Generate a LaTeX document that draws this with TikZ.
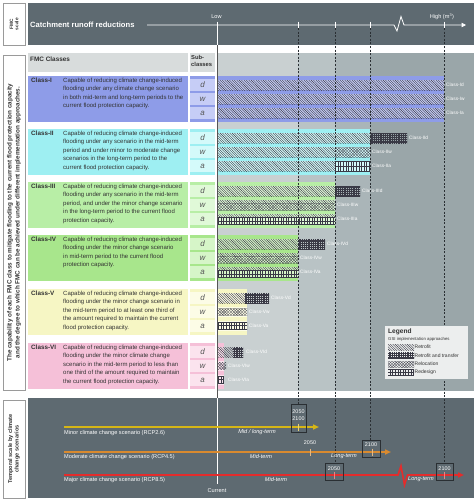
\documentclass[tikz,border=0pt]{standalone}
\usepackage{fontspec}
\setmainfont{Liberation Sans}
\usetikzlibrary{patterns,arrows.meta}

\pgfdeclarepatternformonly{retro}{\pgfqpoint{-1pt}{-1pt}}{\pgfqpoint{3.4pt}{3.4pt}}{\pgfqpoint{2.4pt}{2.4pt}}{%
  \pgfsetlinewidth{0.38pt}%
  \pgfpathmoveto{\pgfqpoint{0pt}{2.4pt}}\pgfpathlineto{\pgfqpoint{2.5pt}{-0.1pt}}%
  \pgfusepath{stroke}}
\pgfdeclarepatternformonly{rtrans}{\pgfqpoint{-1pt}{-1pt}}{\pgfqpoint{2.8pt}{2.8pt}}{\pgfqpoint{1.8pt}{1.8pt}}{%
  \pgfsetlinewidth{0.6pt}%
  \pgfpathmoveto{\pgfqpoint{-0.1pt}{0pt}}\pgfpathlineto{\pgfqpoint{1.9pt}{0pt}}%
  \pgfpathmoveto{\pgfqpoint{0pt}{-0.1pt}}\pgfpathlineto{\pgfqpoint{0pt}{1.9pt}}%
  \pgfusepath{stroke}}
\pgfdeclarepatternformonly{reloc}{\pgfqpoint{-1pt}{-1pt}}{\pgfqpoint{3.8pt}{3.8pt}}{\pgfqpoint{2.8pt}{2.8pt}}{%
  \pgfsetlinewidth{0.28pt}%
  \pgfpathmoveto{\pgfqpoint{0pt}{0pt}}\pgfpathlineto{\pgfqpoint{2.8pt}{2.8pt}}%
  \pgfpathmoveto{\pgfqpoint{0pt}{2.8pt}}\pgfpathlineto{\pgfqpoint{2.8pt}{0pt}}%
  \pgfusepath{stroke}}
\pgfdeclarepatternformonly{redes}{\pgfqpoint{-1pt}{-1pt}}{\pgfqpoint{3.6pt}{3.6pt}}{\pgfqpoint{2.6pt}{2.6pt}}{%
  \pgfsetlinewidth{0.4pt}%
  \pgfpathmoveto{\pgfqpoint{0pt}{-0.1pt}}\pgfpathlineto{\pgfqpoint{0pt}{2.7pt}}%
  \pgfusepath{stroke}}

\definecolor{band}{HTML}{5E6A71}
\definecolor{sideb}{HTML}{9A9A9A}
\definecolor{hdr}{HTML}{D8DCDC}
\definecolor{gA}{HTML}{C9D0D1}
\definecolor{gB}{HTML}{B9C3C5}
\definecolor{gC}{HTML}{AAB5B8}
\definecolor{gD}{HTML}{9AA6A9}
\definecolor{txt}{HTML}{333333}
\definecolor{subtxt}{HTML}{555555}
\definecolor{patc}{HTML}{3A3A46}
\definecolor{cI}{HTML}{8E9CE8}\definecolor{cIl}{HTML}{C6CDF6}
\definecolor{cII}{HTML}{9EEFF2}\definecolor{cIIl}{HTML}{D4FAFA}
\definecolor{cIII}{HTML}{B8EEA6}\definecolor{cIIIl}{HTML}{E0F9D8}
\definecolor{cIV}{HTML}{A8E68C}\definecolor{cIVl}{HTML}{D6F5C8}
\definecolor{cV}{HTML}{F6F6C4}\definecolor{cVl}{HTML}{FCFCE6}
\definecolor{cVI}{HTML}{F5C0D8}\definecolor{cVIl}{HTML}{FBE3EE}
\definecolor{minc}{HTML}{D6B616}
\definecolor{modc}{HTML}{D98A2F}
\definecolor{majc}{HTML}{E42C2C}
\definecolor{legbg}{HTML}{ECEEEE}
\definecolor{dashc}{HTML}{2A2F33}

\tikzset{
  desc/.style={anchor=north west, inner sep=0pt, align=left, font=\fontsize{6}{8.6}\selectfont, text=txt},
  classlbl/.style={anchor=north west, inner sep=0pt, font=\fontsize{6.3}{8.6}\selectfont\bfseries, text=txt},
  sublbl/.style={inner sep=0pt, font=\fontsize{8}{8}\selectfont\itshape, text=subtxt},
  barlbl/.style={anchor=west, inner sep=0pt, font=\fontsize{4.8}{5}\selectfont, text=white},
  sidebox/.style={draw=sideb, line width=0.6pt, fill=white, rotate=90, inner sep=0pt, align=center, text=txt},
  wtxt/.style={inner sep=0pt, text=white, font=\fontsize{5.6}{6}\selectfont},
  witxt/.style={inner sep=0pt, text=white, font=\fontsize{5.6}{6}\selectfont\itshape},
  yrtxt/.style={inner sep=0pt, text=white, align=center, font=\fontsize{5.4}{7.4}\selectfont},
  yrbox/.style={draw=dashc, line width=0.7pt},
  dashln/.style={dashc, line width=0.8pt, dash pattern=on 2pt off 1.6pt},
  legtxt/.style={anchor=west, inner sep=0pt, text=txt, font=\fontsize{5}{5}\selectfont},
}

\newcommand{\classleft}[5]{%
  \fill[#2] (28,#1) rectangle (188,#1+46);
  \fill[#2] (190,#1) rectangle (215,#1+46);
  \foreach \k in {9,23,37} {\fill[#3] (190,#1+\k-6) rectangle (215,#1+\k+6);}
  \node[classlbl] (name#4) at (31,#1+1.5) {Class-#4};
  \node[desc] (desc#4) at (63,#1+1.5) {#5};
  \node[sublbl] (sub#4d) at (202.5,#1+9) {d};
  \node[sublbl] (sub#4w) at (202.5,#1+23) {w};
  \node[sublbl] (sub#4a) at (202.5,#1+37) {a};
}
\newcommand{\classband}[4]{%
  \fill[#2] (217,#1) rectangle (#4,#1+46);
  \foreach \k in {9,23,37} {\fill[#3] (217,#1+\k-5) rectangle (#4,#1+\k+5);}
}
\newcommand{\pat}[5]{\fill[pattern=#1,pattern color=patc] (#2,#4) rectangle (#3,#5);}
\newcommand{\rdsn}[4]{\pat{redes}{#1}{#2}{#3}{#4}%
  \draw[patc,line width=0.35pt] (#1,#3) -- (#2,#3) (#1,#4) -- (#2,#4) (#1,{(#3+#4)/2}) -- (#2,{(#3+#4)/2});}

\begin{document}
\begin{tikzpicture}[x=1pt,y=-1pt]
\useasboundingbox (0,0) rectangle (474,501);
\fill[white] (0,0) rectangle (474,501);

% ---------- top band ----------
\fill[band] (28,3) rectangle (474,45);
\node[sidebox, minimum width=42, minimum height=22, font=\fontsize{4.8}{5.2}\selectfont\bfseries] (fmcscale) at (14,24) {FMC\\scale};
\node[anchor=west, inner sep=0pt, text=white, font=\fontsize{7.6}{8}\selectfont\bfseries] (runoff) at (30,25) {Catchment runoff reductions};
\coordinate (axs) at (147,25);
\coordinate (axe) at (466,25);
\draw[white, line width=0.8pt, -{Triangle[length=4.5pt,width=4.5pt]}] (axs) -- (394,25) -- (397,31) -- (401,16.5) -- (404,25) -- (axe);
\foreach \x in {217,298,335,370,444} {\draw[white, line width=0.7pt] (\x,21.5) -- (\x,28.5);}
\node[wtxt] (low) at (216.5,16.5) {Low};
\node[wtxt] (high) at (442,16.5) {High (m\textsuperscript{3})};

% ---------- middle section ----------
\node[sidebox, minimum width=335, minimum height=22, font=\fontsize{6.3}{7.8}\selectfont\bfseries] (capab) at (14,222.5)
  {The capability of each FMC class to mitigate flooding to the current flood protection capacity\\and the degree to which FMC can be achieved under different implementation approaches.};

\fill[hdr] (28,53) rectangle (188,72);
\fill[hdr] (190,53) rectangle (215,72);
\node[anchor=west, inner sep=0pt, text=txt, font=\fontsize{6.4}{7}\selectfont\bfseries] (fmccl) at (30,59.5) {FMC Classes};
\node[anchor=north west, inner sep=0pt, align=left, text=txt, font=\fontsize{5.8}{6.6}\selectfont\bfseries] (subcl) at (191,55) {Sub-\\classes};

\fill[gA] (217,53) rectangle (298,391);
\fill[gB] (298,53) rectangle (335,391);
\fill[gC] (335,53) rectangle (370,391);
\fill[gD] (370,53) rectangle (474,391);

% Class I
\classleft{76}{cI}{cIl}{I}{Capable of reducing climate change-induced\\flooding under any climate change scenario\\in both mid-term and long-term periods to the\\current flood protection capacity.}
\classband{76}{cI}{cIl}{444}
\pat{retro}{217}{444}{80}{90}
\pat{retro}{217}{444}{94}{104}
\pat{retro}{217}{444}{108}{118}
\node[barlbl] (lId) at (446,85) {Class-Id};
\node[barlbl] (lIw) at (446,99) {Class-Iw};
\node[barlbl] (lIa) at (446,113) {Class-Ia};

% Class II
\classleft{129}{cII}{cIIl}{II}{Capable of reducing climate change-induced\\flooding under any scenario in the mid-term\\period and under minor to moderate change\\scenarios in the long-term period to the\\current flood protection capacity.}
\classband{129}{cII}{cIIl}{370}
\pat{retro}{217}{370}{133}{143}
\pat{rtrans}{370}{407}{133}{143}
\pat{retro}{217}{335}{147}{157}
\pat{reloc}{335}{370}{147}{157}
\pat{retro}{217}{335}{161}{171}
\rdsn{335}{370}{161}{171}
\node[barlbl] (lIId) at (409,138) {Class-IId};
\node[barlbl] (lIIw) at (372,152) {Class-IIw};
\node[barlbl] (lIIa) at (372,166) {Class-IIa};

% Class III
\classleft{182}{cIII}{cIIIl}{III}{Capable of reducing climate change-induced\\flooding under any scenario in the mid-term\\period, and under the minor change scenario\\in the long-term period to the current flood\\protection capacity.}
\classband{182}{cIII}{cIIIl}{335}
\pat{retro}{217}{335}{186}{196}
\pat{rtrans}{335}{360}{186}{196}
\pat{retro}{217}{335}{200}{203.5}
\pat{reloc}{217}{335}{203.5}{210}
\pat{retro}{217}{335}{214}{217.5}
\rdsn{217}{335}{217.5}{224}
\node[barlbl] (lIIId) at (362,191) {Class-IIId};
\node[barlbl] (lIIIw) at (337,205) {Class-IIIw};
\node[barlbl] (lIIIa) at (337,219) {Class-IIIa};

% Class IV
\classleft{235}{cIV}{cIVl}{IV}{Capable of reducing climate change-induced\\flooding under the minor change scenario\\in mid-term period to the current flood\\protection capacity.}
\classband{235}{cIV}{cIVl}{298}
\pat{retro}{217}{298}{239}{249}
\pat{rtrans}{298}{325}{239}{249}
\pat{retro}{217}{298}{253}{256.5}
\pat{reloc}{217}{298}{256.5}{263}
\pat{retro}{217}{298}{267}{270.5}
\rdsn{217}{298}{270.5}{277}
\node[barlbl] (lIVd) at (327,244) {Class-IVd};
\node[barlbl] (lIVw) at (300,258) {Class-IVw};
\node[barlbl] (lIVa) at (300,272) {Class-IVa};

% Class V
\classleft{289}{cV}{cVl}{V}{Capable of reducing climate change-induced\\flooding under the minor change scenario in\\the mid-term period to at least one third of\\the amount required to maintain the current\\flood protection capacity.}
\classband{289}{cV}{cVl}{247}
\pat{retro}{217}{245}{293}{303}
\pat{rtrans}{245}{269}{293}{303}
\pat{reloc}{217}{247}{308}{315}
\rdsn{217}{247}{322}{329}
\node[barlbl] (lVd) at (271,298) {Class-Vd};
\node[barlbl] (lVw) at (249,312) {Class-Vw};
\node[barlbl] (lVa) at (249,326) {Class-Va};

% Class VI
\classleft{343}{cVI}{cVIl}{VI}{Capable of reducing climate change-induced\\flooding under the minor climate change\\scenario in the mid-term period to less than\\one third of the amount required to maintain\\the current flood protection capacity.}
\classband{343}{cVI}{cVIl}{224}
\pat{retro}{217}{233}{347}{357}
\pat{rtrans}{233}{243}{347}{357}
\pat{reloc}{217}{226}{362}{369}
\rdsn{217}{224}{376}{383}
\node[barlbl] (lVId) at (246,352) {Class-VId};
\node[barlbl] (lVIw) at (228,366) {Class-VIw};
\node[barlbl] (lVIa) at (228,380) {Class-VIa};

% ---------- bottom band ----------
\fill[band] (28,398) rectangle (474,498);
\node[sidebox, minimum width=98, minimum height=22, font=\fontsize{5.6}{6.6}\selectfont\bfseries] (temporal) at (14,449) {Temporal scale by climate\\change scenarios};

% current line
\draw[white, line width=0.8pt] (217,28) -- (217,45);
\draw[subtxt, line width=0.9pt] (217,45) -- (217,398);
\draw[white, line width=1pt] (217,398) -- (217,484);
\node[wtxt] (current) at (217,490.5) {Current};

% dashed guides
\draw[dashln] (298,28) -- (298,404);
\draw[dashln] (335,28) -- (335,463);
\draw[dashln] (370,28) -- (370,440);
\draw[dashln] (444,28) -- (444,463);

% legend
\fill[legbg] (385,326) rectangle (468,379);
\node[anchor=west, inner sep=0pt, text=txt, font=\fontsize{6.6}{7}\selectfont\bfseries] (legtitle) at (388,331.5) {Legend};
\node[anchor=west, inner sep=0pt, text=txt, font=\fontsize{4.3}{5}\selectfont] (legsub) at (388,339.5) {GSI implementation approaches};
\pat{retro}{388}{414}{344}{350}
\pat{rtrans}{388}{414}{352.5}{358.5}
\pat{reloc}{388}{414}{361}{367}
\rdsn{388}{414}{369.5}{375.5}
\node[legtxt] (legA) at (414.5,347) {Retrofit};
\node[legtxt] (legB) at (414.5,355.5) {Retrofit and transfer};
\node[legtxt] (legC) at (414.5,364) {Relocation};
\node[legtxt] (legD) at (414.5,372.5) {Redesign};

% scenario arrows
\coordinate (mins) at (64,427);  \coordinate (mine) at (319,427);
\coordinate (mods) at (64,452);  \coordinate (mode) at (391,452);
\coordinate (majs) at (64,475);  \coordinate (maje) at (464,475);
\draw[minc, line width=1.6pt, -{Triangle[length=6pt,width=5pt]}] (mins) -- (mine);
\draw[modc, line width=1.6pt, -{Triangle[length=6pt,width=5pt]}] (mods) -- (mode);
\draw[majc, line width=1.6pt, -{Triangle[length=6pt,width=5pt]}] (majs) -- (398,475) -- (401,466) -- (404.5,485) -- (407.5,475) -- (maje);

\draw[minc!60!white, line width=0.8pt] (298,423.5) -- (298,430.5);
\draw[modc!60!white, line width=0.8pt] (310,448.5) -- (310,455.5);
\draw[modc!60!white, line width=0.8pt] (372,448.5) -- (372,455.5);
\draw[majc!60!white, line width=0.8pt] (334,471.5) -- (334,478.5);
\draw[majc!60!white, line width=0.8pt] (444,471.5) -- (444,478.5);

\node[wtxt, anchor=west] (minlbl) at (64,433) {Minor climate change scenario (RCP2.6)};
\node[wtxt, anchor=west] (modlbl) at (64,457) {Moderate climate change scenario (RCP4.5)};
\node[wtxt, anchor=west] (majlbl) at (64,480) {Major climate change scenario (RCP8.5)};
\node[witxt] (minterm) at (257,432.5) {Mid / long-term};
\node[witxt] (modmid) at (261,456.5) {Mid-term};
\node[witxt] (modlong) at (344,456.5) {Long-term};
\node[witxt] (majmid) at (276,479.5) {Mid-term};
\node[witxt] (majlong) at (421,479.5) {Long-term};

\draw[yrbox] (291,404) rectangle (306,432);
\node[yrtxt] (yr1) at (298.5,415) {2050\\2100};
\node[yrtxt] (yr2) at (310,443) {2050};
\draw[yrbox] (362,440) rectangle (380,457);
\node[yrtxt] (yr3) at (371,445) {2100};
\draw[yrbox] (325,463) rectangle (343,480);
\node[yrtxt] (yr4) at (334,468.5) {2050};
\draw[yrbox] (436,463) rectangle (453,480);
\node[yrtxt] (yr5) at (444.5,468.5) {2100};
\end{tikzpicture}
\end{document}
